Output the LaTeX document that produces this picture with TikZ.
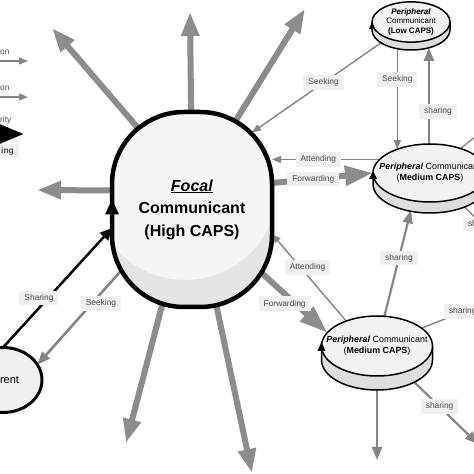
\documentclass[tikz,border=0pt]{standalone}
\usepackage{fontspec}
\setmainfont{Liberation Sans}
\usetikzlibrary{arrows.meta,shapes.geometric,backgrounds}

\newcommand{\disctext}[1]{\makebox[0pt]{\begin{tabular}{@{}c@{}}#1\end{tabular}}}

\begin{document}
\begin{tikzpicture}[
  x=1pt, y=1pt, >=Stealth,
  font=\fontsize{8.4}{10}\selectfont,
  focalNode/.style={draw, line width=4.5pt, rounded corners=72pt, fill=black!4,
               minimum width=160pt, minimum height=195pt, inner sep=0pt, outer sep=0pt,
               align=center, font=\fontsize{16}{22.5}\selectfont\bfseries,
               path picture={\fill[black!10, even odd rule]
                 (path picture bounding box.south west) rectangle (path picture bounding box.north east)
                 ([shift={(-7,19.5)}]path picture bounding box.center) ellipse[x radius=92, y radius=90];}},
  disc/.style={draw, ellipse, line width=1.5pt, fill=black!5, inner sep=0pt, outer sep=0pt},
  discSide/.style={draw, line width=1.5pt, fill=black!13},
  parentNode/.style={draw, ellipse, line width=3pt, fill=black!6, minimum width=78pt,
               minimum height=65pt, inner sep=0pt, outer sep=0pt, font=\fontsize{11}{13}\selectfont},
  lbl/.style={fill=black!6, text=black!70, inner xsep=5pt, inner ysep=3.5pt},
  legendTxt/.style={text=black!70, inner sep=1pt},
  bigArr/.style={-{Triangle[length=24pt,width=17pt]}, line width=6pt, draw=black!45},
  fwdArr/.style={-{Triangle[length=28pt,width=19pt]}, line width=6pt, draw=black!45},
  thinArr/.style={-{Triangle[length=9pt,width=7pt]}, line width=1.4pt, draw=black!48},
  midArr/.style={-{Triangle[length=13pt,width=10pt]}, line width=2.2pt, draw=black!48},
  shareArr/.style={-{Triangle[length=12pt,width=11pt]}, line width=2.5pt, draw=black},
  flowMark/.style={fill=black},
]
\useasboundingbox (0,0) rectangle (474,474);

% communicants
\node[focalNode] (focal) at (192,264.5) {\underline{\textit{Focal}}\\Communicant\\(High CAPS)};
\node[disc, minimum width=78pt, minimum height=40pt, font=\fontsize{8}{9.5}\selectfont] (low) at (411,452)
  {\disctext{\textbf{\textit{Peripheral}}\\Communicant\\\textbf{(Low CAPS)}}};
\node[disc, minimum width=114pt, minimum height=58pt, font=\fontsize{8.9}{11}\selectfont] (mid1) at (430,301)
  {\disctext{\textbf{\textit{Peripheral}} Communicant\\(\textbf{Medium CAPS})}};
\node[disc, minimum width=111pt, minimum height=60pt, font=\fontsize{8.9}{11}\selectfont] (mid2) at (377,128)
  {\disctext{\textbf{\textit{Peripheral}} Communicant\\(\textbf{Medium CAPS})}};
\node[parentNode] (parent) at (3,94) {\makebox[32pt][r]{rent}};

\coordinate (hub) at ([yshift=18.5pt]focal.center);
\coordinate (out1) at (52,446);
\coordinate (out2) at (190,462);
\coordinate (out3) at (305,465);
\coordinate (out4) at (37,284);
\coordinate (out5) at (126,31);
\coordinate (out6) at (252,1);
\coordinate (out7) at (377,14);
\coordinate (out8) at (478,30);
\coordinate (out9) at (500,357);
\coordinate (out10) at (520,185);
\coordinate (out11) at (500,232);

\begin{scope}[on background layer]
% focal broadcasting
\foreach \o in {out1,out2,out3,out4,out5,out6}
  \draw[bigArr] (hub) -- (\o);
\draw[fwdArr] (hub) -- node[lbl,pos=0.67]{Forwarding} (mid1.west);
\draw[fwdArr] (focal.center) -- node[lbl,pos=0.685,yshift=-10pt]{Forwarding} (mid2.165);

% peripheral links
\draw[thinArr] (low.center) -- node[lbl,pos=0.55]{Seeking} ([shift={(60,77)}]focal.center);
\draw[thinArr] (mid1.144 |- low.center) -- node[lbl,pos=0.45]{Seeking} (mid1.144);
\draw[midArr] (mid1.north -| low.-45) -- node[lbl,pos=0.34,xshift=9pt]{sharing} ([yshift=-8pt]low.-45);
\draw[thinArr] (mid1.165) -- node[lbl,pos=0.57]{Attending} (mid1.165 -| focal.east);
\draw[thinArr] (mid2.141) -- node[lbl,pos=0.52,yshift=8pt]{Attending} (focal.-17);
\draw[midArr] (mid2.center) -- node[lbl,pos=0.648]{sharing} ([yshift=-10pt]mid1.-125);
\draw[midArr] (mid2.center) -- (out7);
\draw[midArr] (mid2.center) -- node[lbl,pos=0.62]{sharing} (out8);
\draw[thinArr,-] (mid2.center) -- node[lbl,pos=0.6]{sharing} (out10);
\draw[thinArr,-] (mid1.center) -- (out9);
\draw[thinArr,-] (mid1.center) -- node[lbl,pos=0.74]{sharing} (out11);

% parent links
\draw[midArr, line width=2.6pt] (hub) -- node[lbl,pos=0.589,yshift=-10pt]{Seeking} (parent.24);
\draw[shareArr] (parent.north) -- node[lbl,pos=0.33,yshift=10pt]{Sharing} (focal.193);

% disc sides
\draw[discSide] (low.west) -- ++(0,-8) arc[start angle=180, end angle=360, x radius=39, y radius=20] -- (low.east);
\draw[discSide] (mid1.west) -- ++(0,-11) arc[start angle=180, end angle=360, x radius=57, y radius=29] -- (mid1.east);
\draw[discSide] (mid2.west) -- ++(0,-14) arc[start angle=180, end angle=360, x radius=55.5, y radius=30] -- (mid2.east);
\end{scope}

% flow marks on the outlines
\fill[flowMark] ([yshift=10pt]focal.west) -- ++(-7,-15) -- ++(14,0) -- cycle;
\fill[flowMark] ([yshift=2pt]mid1.west) -- ++(-4,-8) -- ++(8,0) -- cycle;
\fill[flowMark] ([yshift=4pt]mid2.west) -- ++(-4,-9) -- ++(8,0) -- cycle;
\fill[flowMark] (low.west) -- ++(-3,-7) -- ++(6,0) -- cycle;

% legend
\node[legendTxt, anchor=west] (lgT1) at (-1,422) {on};
\coordinate (lg1a) at (-5,413);
\coordinate (lg1b) at (28,413);
\draw[thinArr] (lg1a) -- (lg1b);
\node[legendTxt, anchor=west] (lgT2) at (-1,386) {on};
\coordinate (lg2a) at (-5,377);
\coordinate (lg2b) at (28,377);
\draw[thinArr] (lg2a) -- (lg2b);
\node[legendTxt, anchor=west] (lgT3) at (-1,354) {rity};
\coordinate (lg3a) at (-25,340);
\coordinate (lg3b) at (24,340);
\draw[-{Triangle[length=24pt,width=18pt]}, line width=5pt] (lg3a) -- (lg3b);
\node[lbl, anchor=east, font=\fontsize{8.4}{10}\selectfont\bfseries] (lgT4) at (19,323) {ing};
\end{tikzpicture}
\end{document}
